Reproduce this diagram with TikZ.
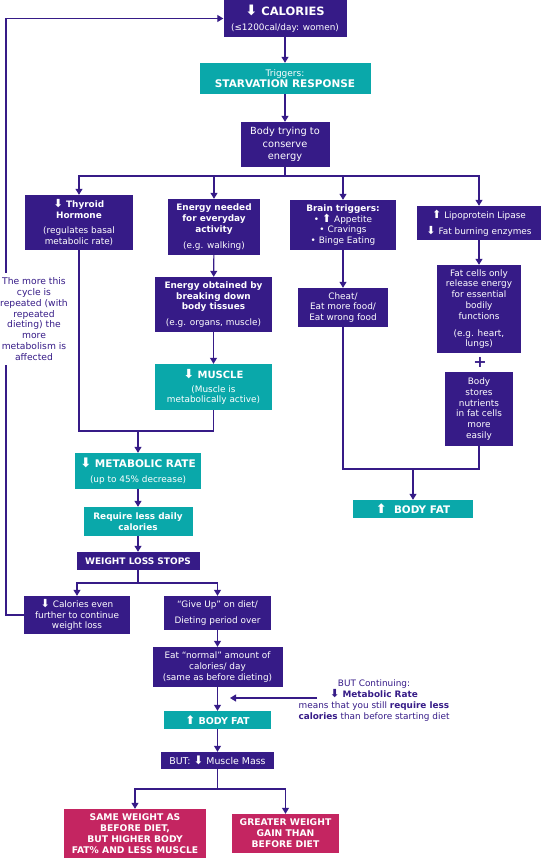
\documentclass[tikz,border=0pt]{standalone}
\usepackage{fontspec}
\setmainfont{DejaVu Sans}
\usetikzlibrary{positioning, arrows.meta, calc}
\definecolor{dietpurple}{RGB}{54,27,135}
\definecolor{dietteal}{RGB}{10,168,170}
\definecolor{dietpink}{RGB}{196,37,97}
\newcommand{\headtext}[2][10.5]{{\fontsize{#1}{12}\selectfont\bfseries #2}}
\newcommand{\dn}{{\scalebox{1.25}{⬇}}}
\newcommand{\up}{{\scalebox{1.25}{⬆}}}

\begin{document}
\begin{tikzpicture}[
        x=1pt, y=-1pt,
        % Global styles
        every node/.style={font=\fontsize{8.9}{10.8}\selectfont, align=center, inner sep=1pt},
        box/.style 2 args={fill=dietpurple, text=white, minimum width=#1pt, minimum height=#2pt},
        tealbox/.style 2 args={box={#1}{#2}, fill=dietteal},  % teal boxes
        pinkbox/.style 2 args={box={#1}{#2}, fill=dietpink},  % final outcomes
        note/.style={text=dietpurple},                         % loose text
        flow/.style={draw=dietpurple, line width=1.1pt, -{Triangle[width=7pt,length=6pt]}},
        joint/.style={draw=dietpurple, line width=1.1pt}       % lines without arrow
    ]
    \useasboundingbox (0,0) rectangle (544,861);

    % top chain
    \node[box={123}{37}] (cal) at (285,18.5) {\headtext[11.5]{\dn\ CALORIES}\\[4pt](≤1200cal/day: women)};
    \node[tealbox={171}{31}] (starv) at (285,78.5) {\fontsize{9}{11}\selectfont Triggers:\\\headtext{STARVATION RESPONSE}};
    \node[box={89}{45}, font=\fontsize{9.8}{12.5}\selectfont] (body) at (285,144.5) {Body trying to\\conserve\\energy};

    % four branches
    \node[box={108}{55}] (thyroid) at (79,222.5) {\textbf{\dn\ Thyroid}\\\textbf{Hormone}\\[5pt](regulates basal\\metabolic rate)};
    \node[box={92}{56}] (needed) at (214,227) {\textbf{Energy needed}\\\textbf{for everyday}\\\textbf{activity}\\[5pt](e.g. walking)};
    \node[box={117}{55}] (obtained) at (213.5,304.5) {\textbf{Energy obtained by}\\\textbf{breaking down}\\\textbf{body tissues}\\[5pt](e.g. organs, muscle)};
    \node[tealbox={117}{46}] (muscle) at (213.5,387) {\headtext[10]{\dn\ MUSCLE}\\[3pt](Muscle is\\metabolically active)};
    \node[box={106}{50}] (brain) at (343,225) {\textbf{Brain triggers:}\\• \up\ Appetite\\• Cravings\\• Binge Eating};
    \node[box={90}{39}] (cheat) at (343,307.5) {Cheat/\\Eat more food/\\Eat wrong food};
    \node[box={124}{34}] (lipo) at (479,223) {\up\ Lipoprotein Lipase\\[5pt]\dn\ Fat burning enzymes};
    \node[box={84}{88}] (fatcells) at (479,309) {Fat cells only\\release energy\\for essential\\bodily\\functions\\[6pt](e.g. heart,\\lungs)};
    \node[note, font=\fontsize{16}{16}\selectfont\bfseries] (plus) at (480,362) {+};
    \node[box={68}{74}] (stores) at (479,409) {Body\\stores\\nutrients\\in fat cells\\more\\easily};
    \node[tealbox={120}{18}, font=\fontsize{10.4}{11}\selectfont\bfseries] (bodyfat1) at (413,509) {\up\ \ BODY FAT};

    % left column
    \node[tealbox={126}{36}] (metab) at (138,471) {\headtext{\dn\ METABOLIC RATE}\\[4pt](up to 45\% decrease)};
    \node[tealbox={109}{29}, font=\fontsize{8.9}{10.8}\selectfont\bfseries] (reqless) at (138,521.5) {Require less daily\\calories};
    \node[box={123}{18}, font=\fontsize{9}{10}\selectfont\bfseries] (wls) at (138,561) {WEIGHT LOSS STOPS};
    \node[box={106}{38}] (caleven) at (77,615) {\dn\ Calories even\\further to continue\\weight loss};
    \node[box={107}{34}] (giveup) at (217.5,613) {“Give Up” on diet/\\[5pt]Dieting period over};
    \node[box={130}{40}] (eat) at (217.5,667) {Eat “normal” amount of\\calories/ day\\(same as before dieting)};
    \node[tealbox={107}{18}, font=\fontsize{9.5}{10}\selectfont\bfseries] (bodyfat2) at (217.5,720) {\up\ BODY FAT};
    \node[box={113}{17}, font=\fontsize{9.4}{10}\selectfont] (mmass) at (217.5,760.5) {BUT: \dn\ Muscle Mass};
    \node[pinkbox={142}{49}, font=\fontsize{9.2}{11}\selectfont\bfseries] (same) at (135,833.5) {SAME WEIGHT AS\\BEFORE DIET,\\BUT HIGHER BODY\\FAT\% AND LESS MUSCLE};
    \node[pinkbox={107}{39}, font=\fontsize{9.2}{11}\selectfont\bfseries] (greater) at (285.5,833.5) {GREATER WEIGHT\\GAIN THAN\\BEFORE DIET};
    \node[note] (ann) at (374,700.5) {BUT Continuing:\\\textbf{\dn\ Metabolic Rate}\\means that you still \textbf{require less}\\\textbf{calories} than before starting diet};

    % helper points
    \coordinate (split1) at (285,176);
    \coordinate (merge1) at (138,431);
    \coordinate (merge2) at (413,469);
    \coordinate (split2) at (138,583);
    \coordinate (split3) at (217.5,789);
    \coordinate (loopx) at (6,0);
    \coordinate (annfrom) at (317,698);
    \coordinate (annto) at (230,698);

    % connectors
    \draw[flow] (cal) -- (starv);
    \draw[flow] (starv) -- (body);
    \draw[joint] (body) -- (split1);
    \foreach \n in {thyroid, needed, brain, lipo}
        \draw[flow] (split1) -| (\n);
    \draw[flow] (needed) -- (obtained);
    \draw[flow] (obtained) -- (muscle);
    \draw[flow] (brain) -- (cheat);
    \draw[flow] (lipo) -- (fatcells);
    \draw[joint] (thyroid) |- (merge1);
    \draw[joint] (muscle) |- (merge1);
    \draw[flow] (merge1) -- (metab);
    \draw[joint] (cheat) |- (merge2);
    \draw[joint] (stores) |- (merge2);
    \draw[flow] (merge2) -- (bodyfat1);
    \draw[flow] (metab) -- (reqless);
    \draw[flow] (reqless) -- (wls);
    \draw[joint] (wls) -- (split2);
    \foreach \n in {caleven, giveup}
        \draw[flow] (split2) -| (\n);
    \draw[flow] (caleven.west) -- (caleven.west -| loopx) |- (cal.west);
    \draw[flow] (giveup) -- (eat);
    \draw[flow] (eat) -- (bodyfat2);
    \draw[flow] (bodyfat2) -- (mmass);
    \draw[joint] (mmass) -- (split3);
    \foreach \n in {same, greater}
        \draw[flow] (split3) -| (\n);
    \draw[flow] (annfrom) -- (annto);

    % text over the loop line
    \node[note, fill=white, inner xsep=1pt, inner ysep=5pt, font=\fontsize{9.2}{10.8}\selectfont] (cycle) at (34,319) {The more this\\cycle is\\repeated (with\\repeated\\dieting) the\\more\\metabolism is\\affected};
\end{tikzpicture}
\end{document}
